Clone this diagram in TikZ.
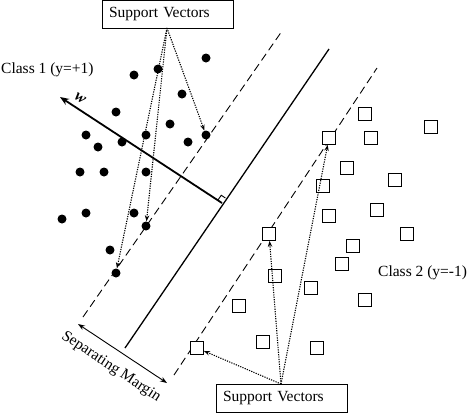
\documentclass[tikz,border=0pt]{standalone}
\usepackage{fontspec}
\setmainfont{Liberation Serif}
\usetikzlibrary{arrows.meta,calc}
\begin{document}
\begin{tikzpicture}[x=1pt,y=-1pt,
  font=\fontsize{15.5}{18}\selectfont,
  dotnode/.style={circle,fill=black,inner sep=0pt,minimum size=9pt},
  sqnode/.style={rectangle,draw=black,line width=1.3pt,fill=white,inner sep=0pt,minimum size=12.5pt},
  labelbox/.style={rectangle,draw=black,line width=0.9pt,text width=117pt,align=left,inner xsep=7pt,minimum height=28pt,inner ysep=0pt},
  svarrow/.style={line width=1.1pt,dash pattern=on 1.2pt off 1.2pt,-{Stealth[length=6pt,width=4.5pt]}},
  marginline/.style={line width=0.9pt,dash pattern=on 8pt off 4.5pt},
  hyper/.style={line width=1.3pt},
]
\useasboundingbox (0,0) rectangle (474,413);

% separating lines
\coordinate (ua) at (83,317);  \coordinate (ub) at (282,31);
\coordinate (ha) at (125,348); \coordinate (hb) at (329,49);
\coordinate (la) at (174,375); \coordinate (lb) at (377,68);
\draw[marginline] (ua) -- (ub);
\draw[hyper] (ha) -- (hb);
\draw[marginline] (la) -- (lb);

% w vector with right angle mark
\coordinate (wfoot) at (222,203);
\coordinate (wtip) at (60,97);
\draw[line width=1.8pt,-{Stealth[length=9pt,width=7pt]}] (wfoot) -- (wtip);
\draw[line width=0.9pt] ($(wfoot)!5pt!(wtip)$) coordinate (ra1)
  -- ++(3.4,-5) coordinate (ra2) -- ++(4.2,2.8);
\node[rotate=-33] (wlab) at (80,98) {\fontsize{16}{18}\selectfont\textbf{\textit{w}}};

% class 1 points
\node[dotnode] (d1) at (206,58) {};
\node[dotnode] (d2) at (158,69) {};
\node[dotnode] (d3) at (134,75) {};
\node[dotnode] (d4) at (182,94) {};
\node[dotnode] (d5) at (116,112) {};
\node[dotnode] (d6) at (170,124) {};
\node[dotnode] (d7) at (86,135) {};
\node[dotnode] (d8) at (146,135) {};
\node[dotnode] (d9) at (122,142) {};
\node[dotnode] (d10) at (188,142) {};
\node[dotnode] (sva) at (206,135) {};
\node[dotnode] (d11) at (98,147) {};
\node[dotnode] (d12) at (80,172) {};
\node[dotnode] (d13) at (104,172) {};
\node[dotnode] (d14) at (146,172) {};
\node[dotnode] (d15) at (62,219) {};
\node[dotnode] (d16) at (86,213) {};
\node[dotnode] (d17) at (134,213) {};
\node[dotnode] (svb) at (146,226) {};
\node[dotnode] (d18) at (110,250) {};
\node[dotnode] (svc) at (116,273) {};

% class 2 points
\node[sqnode] (q1) at (365,114) {};
\node[sqnode] (q2) at (431,127) {};
\node[sqnode] (q3) at (371,138) {};
\node[sqnode] (q4) at (347,168) {};
\node[sqnode] (q5) at (395,180) {};
\node[sqnode] (q7) at (329,216) {};
\node[sqnode] (q8) at (377,210) {};
\node[sqnode] (q9) at (407,234) {};
\node[sqnode] (q10) at (353,246) {};
\node[sqnode] (q11) at (342,264) {};
\node[sqnode] (q13) at (311,288) {};
\node[sqnode] (q14) at (365,300) {};
\node[sqnode] (q15) at (239,306) {};
\node[sqnode] (q16) at (263,342) {};
\node[sqnode] (q17) at (317,348) {};

% boxes
\node[labelbox] (svtop) at (167.5,14.5) {Support Vectors};
\node[labelbox] (svbot) at (281.5,398) {Support Vectors};

% arrows from bottom box
\node[sqnode] (q6) at (323,186) {};
\node[sqnode] (q12) at (275,276) {};
\node[sqnode] (sv1) at (329,138) {};
\node[sqnode] (sv2) at (269,234) {};
\node[sqnode] (sv3) at (197,348) {};
\coordinate (bstart) at (281,384);
\coordinate (tstart) at (167,28);
\draw[svarrow] (bstart) -- (sv1);
\draw[svarrow] (bstart) -- (sv2);
\draw[svarrow] (bstart) -- (sv3);

% arrows from top box
\draw[svarrow] (tstart) -- (sva);
\draw[svarrow] (tstart) -- (svb);
\draw[svarrow] (tstart) -- (svc);

% class labels
\node[anchor=west,inner sep=0pt] (cl1) at (1,70) {Class 1 (y=+1)};
\node[anchor=west,inner sep=0pt] (cl2) at (378,273) {Class 2 (y=-1)};

% separating margin
\coordinate (ma) at (78,324);
\coordinate (mb) at (167,383);
\draw[line width=0.9pt,{Stealth[length=7pt,width=5pt]}-{Stealth[length=7pt,width=5pt]}] (ma) -- (mb);
\node[rotate=-33.5] (mlab) at (111,367) {Separating Margin};
\end{tikzpicture}
\end{document}
